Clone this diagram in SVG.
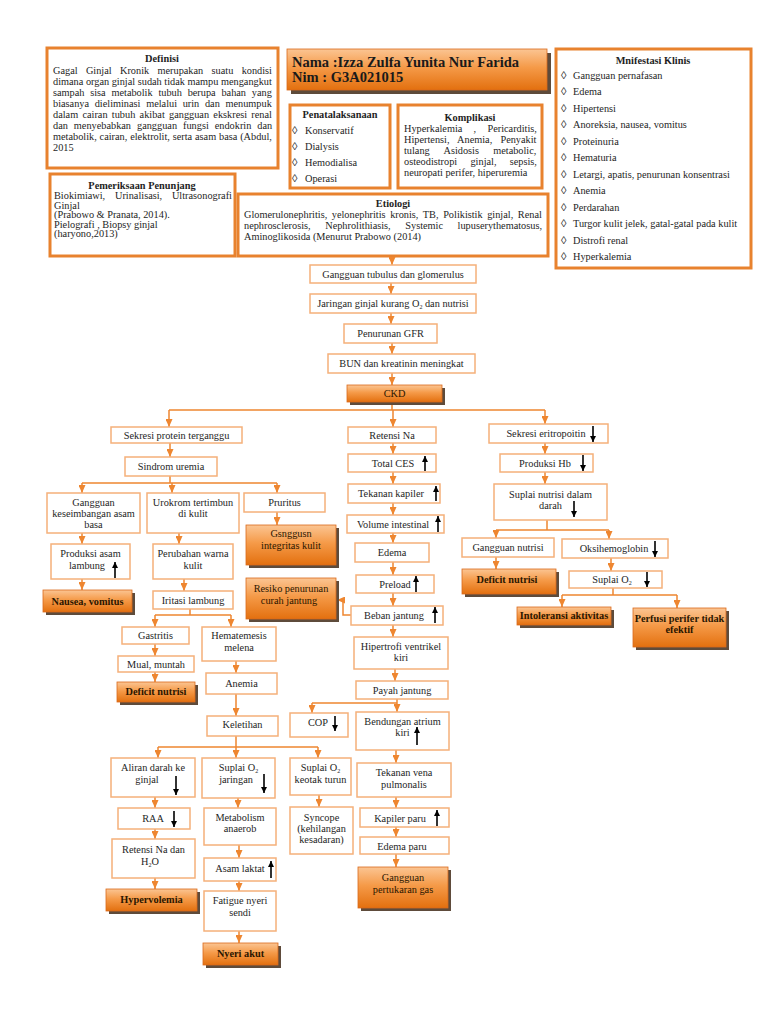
<svg xmlns="http://www.w3.org/2000/svg" width="768" height="1024" viewBox="0 0 768 1024">
<defs>
<linearGradient id="og" x1="0" y1="0" x2="0" y2="1">
<stop offset="0" stop-color="#FBC593"/>
<stop offset="0.45" stop-color="#F59A48"/>
<stop offset="1" stop-color="#E3700F"/>
</linearGradient>
<marker id="ah" viewBox="0 0 8 7" refX="8" refY="3.5" markerWidth="8" markerHeight="7" markerUnits="userSpaceOnUse" orient="auto"><path d="M0,0L8,3.5L0,7z" fill="#EE8630"/></marker>
<marker id="bh" viewBox="0 0 6 6" refX="6" refY="3" markerWidth="6" markerHeight="6" markerUnits="userSpaceOnUse" orient="auto"><path d="M0,0L6,3L0,6z" fill="#000"/></marker>
</defs>
<style>
.ib{fill:#fff;stroke:#E8822E;stroke-width:3}
.b{fill:#fff;stroke:#F5B07A;stroke-width:1.5}
.o{fill:url(#og);stroke:#D96A1C;stroke-width:0.8}
.sh{fill:#5E4B3B}
text{font-family:"Liberation Serif","Times New Roman",serif;fill:#1e1e1e}
.t{font-size:10.3px;text-anchor:middle}
.tb{font-size:10.3px;text-anchor:middle;font-weight:bold;fill:#2a1600}
.tn{font-size:10.3px;text-anchor:middle;fill:#2a1600}
.h{font-size:10.3px;font-weight:bold;text-anchor:middle}
.p{font-size:10.3px}
.d{font-size:11px}
.nm{font-size:14.5px;font-weight:bold;fill:#1a1a1a}
.c{fill:none;stroke:#EE8630;stroke-width:1.5}
.a{marker-end:url(#ah)}
.k{fill:none;stroke:#000;stroke-width:1.6;marker-end:url(#bh)}
.s{font-size:6px}
</style>
<rect x="0" y="0" width="768" height="1024" fill="#fff"/>

<g id="definisi">
<rect class="ib" x="47" y="48" width="231" height="120"/>
<text class="h" x="162" y="62">Definisi</text>
<text class="p" x="53" y="74" word-spacing="5.76">Gagal Ginjal Kronik merupakan suatu kondisi</text>
<text class="p" x="53" y="85">dimana organ ginjal sudah tidak mampu mengangkut</text>
<text class="p" x="53" y="96" word-spacing="3.2">sampah sisa metabolik tubuh berupa bahan yang</text>
<text class="p" x="53" y="107" word-spacing="3.1">biasanya dieliminasi melalui urin dan menumpuk</text>
<text class="p" x="53" y="118" word-spacing="1.7">dalam cairan tubuh akibat gangguan ekskresi renal</text>
<text class="p" x="53" y="129" word-spacing="3.4">dan menyebabkan gangguan fungsi endokrin dan</text>
<text class="p" x="53" y="140" word-spacing="0.27">metabolik, cairan, elektrolit, serta asam basa (Abdul,</text>
<text class="p" x="53" y="151">2015</text>
</g>

<g id="nama">
<rect class="sh" x="291" y="53" width="260" height="41"/>
<rect class="o" x="287" y="49" width="260" height="41"/>
<text class="nm" x="292" y="67">Nama :Izza Zulfa Yunita Nur Farida</text>
<text class="nm" x="292" y="82">Nim : G3A021015</text>
</g>

<g id="penatalaksanaan">
<rect class="ib" x="290" y="105" width="100" height="83"/>
<text class="h" x="340" y="118">Penatalaksanaan</text>
<text class="d" x="292" y="134">◊</text><text class="p" x="305" y="134">Konservatif</text>
<text class="d" x="292" y="150">◊</text><text class="p" x="305" y="150">Dialysis</text>
<text class="d" x="292" y="166">◊</text><text class="p" x="305" y="166">Hemodialisa</text>
<text class="d" x="292" y="182">◊</text><text class="p" x="305" y="182">Operasi</text>
</g>

<g id="komplikasi">
<rect class="ib" x="398" y="105" width="144" height="83"/>
<text class="h" x="470" y="121">Komplikasi</text>
<text class="p" x="404" y="132" word-spacing="8.7">Hyperkalemia , Pericarditis,</text>
<text class="p" x="404" y="143" word-spacing="5.6">Hipertensi, Anemia, Penyakit</text>
<text class="p" x="404" y="154" word-spacing="11.7">tulang Asidosis metabolic,</text>
<text class="p" x="404" y="165" word-spacing="10.7">osteodistropi ginjal, sepsis,</text>
<text class="p" x="404" y="176">neuropati perifer, hiperuremia</text>
</g>

<g id="manifestasi">
<rect class="ib" x="556" y="49" width="195" height="219"/>
<text class="h" x="653" y="64">Mnifestasi Klinis</text>
<text class="d" x="561" y="78.5">◊</text><text class="p" x="573" y="78.5">Gangguan pernafasan</text>
<text class="d" x="561" y="95">◊</text><text class="p" x="573" y="95">Edema</text>
<text class="d" x="561" y="111.5">◊</text><text class="p" x="573" y="111.5">Hipertensi</text>
<text class="d" x="561" y="128">◊</text><text class="p" x="573" y="128">Anoreksia, nausea, vomitus</text>
<text class="d" x="561" y="144.5">◊</text><text class="p" x="573" y="144.5">Proteinuria</text>
<text class="d" x="561" y="161">◊</text><text class="p" x="573" y="161">Hematuria</text>
<text class="d" x="561" y="177.5">◊</text><text class="p" x="573" y="177.5">Letargi, apatis, penurunan konsentrasi</text>
<text class="d" x="561" y="194">◊</text><text class="p" x="573" y="194">Anemia</text>
<text class="d" x="561" y="210.5">◊</text><text class="p" x="573" y="210.5">Perdarahan</text>
<text class="d" x="561" y="227">◊</text><text class="p" x="573" y="227">Turgor kulit jelek, gatal-gatal pada kulit</text>
<text class="d" x="561" y="243.5">◊</text><text class="p" x="573" y="243.5">Distrofi renal</text>
<text class="d" x="561" y="260">◊</text><text class="p" x="573" y="260">Hyperkalemia</text>
</g>

<g id="pemeriksaan">
<rect class="ib" x="50" y="174" width="185" height="82"/>
<text class="h" x="142" y="189">Pemeriksaan Penunjang</text>
<text class="p" x="54" y="199" word-spacing="7.2">Biokimiawi, Urinalisasi, Ultrasonografi</text>
<text class="p" x="54" y="208.5">Ginjal</text>
<text class="p" x="54" y="218">(Prabowo &amp; Pranata,  2014).</text>
<text class="p" x="54" y="227.5">Pielografi , Biopsy ginjal</text>
<text class="p" x="54" y="237">(haryono,2013)</text>
</g>

<g id="etiologi">
<rect class="ib" x="238" y="194" width="310" height="62"/>
<text class="h" x="393" y="207">Etiologi</text>
<text class="p" x="244" y="218" word-spacing="2">Glomerulonephritis, yelonephritis kronis, TB, Polikistik ginjal, Renal</text>
<text class="p" x="244" y="229" word-spacing="12">nephrosclerosis, Nephrolithiasis, Systemic lupuserythematosus,</text>
<text class="p" x="244" y="240">Aminoglikosida (Menurut Prabowo (2014)</text>
</g>

<g id="connectors">
<path class="c a" d="M392,257V265"/>
<path class="c a" d="M391,283V294"/>
<path class="c a" d="M391,313V324"/>
<path class="c a" d="M392,343V354"/>
<path class="c a" d="M392,373V385"/>
<path class="c" d="M392,402V410M169,410H545"/>
<path class="c a" d="M169,410V427"/>
<path class="c a" d="M393,410V427"/>
<path class="c a" d="M545,410V424"/>
<path class="c a" d="M170,443V457"/>
<path class="c a" d="M393,443V454"/>
<path class="c a" d="M545,443V454"/>
<path class="c" d="M170,476V483M82,483H277"/>
<path class="c a" d="M82,483V493"/>
<path class="c a" d="M172,483V493"/>
<path class="c a" d="M277,483V493"/>
<path class="c a" d="M393,472V484"/>
<path class="c a" d="M545,472V484"/>
<path class="c a" d="M393,503V515"/>
<path class="c" d="M547,520V530M496,530H609"/>
<path class="c a" d="M496,530V538"/>
<path class="c a" d="M609,530V539"/>
<path class="c a" d="M82,533V544"/>
<path class="c a" d="M179,533V544"/>
<path class="c a" d="M277,512V525"/>
<path class="c a" d="M393,533V543"/>
<path class="c a" d="M393,562V575"/>
<path class="c a" d="M393,593V606"/>
<path class="c a" d="M351,615H343V600H337"/>
<path class="c a" d="M393,625V637"/>
<path class="c a" d="M395,669V681"/>
<path class="c" d="M397,699V703M312,703H397"/>
<path class="c a" d="M312,703V713"/>
<path class="c a" d="M397,703V712"/>
<path class="c a" d="M82,579V590"/>
<path class="c a" d="M184,579V591"/>
<path class="c a" d="M496,557V569"/>
<path class="c a" d="M611,558V571"/>
<path class="c" d="M613,588V595M562,595H677"/>
<path class="c a" d="M562,595V607"/>
<path class="c a" d="M677,595V608"/>
<path class="c" d="M190,609V615M155,615H231"/>
<path class="c a" d="M155,615V627"/>
<path class="c a" d="M231,615V627"/>
<path class="c a" d="M155,644V656"/>
<path class="c a" d="M155,672V682"/>
<path class="c a" d="M236,661V673"/>
<path class="c a" d="M236,694V716"/>
<path class="c" d="M236,736V747M158,747H318"/>
<path class="c a" d="M158,747V758"/>
<path class="c a" d="M236,747V758"/>
<path class="c a" d="M318,747V758"/>
<path class="c a" d="M155,797V808"/>
<path class="c a" d="M155,829V839"/>
<path class="c a" d="M155,878V889"/>
<path class="c a" d="M238,798V808"/>
<path class="c a" d="M239,845V858"/>
<path class="c a" d="M239,881V891"/>
<path class="c a" d="M239,931V943"/>
<path class="c a" d="M319,795V807"/>
<path class="c a" d="M396,750V763"/>
<path class="c a" d="M396,797V808"/>
<path class="c a" d="M396,827V837"/>
<path class="c a" d="M396,854V867"/>
</g>

<g id="tubulus"><rect class="b" x="310" y="265" width="166" height="18"/><text class="t" x="393" y="277.5">Gangguan tubulus dan glomerulus</text></g>
<g id="jaringan"><rect class="b" x="310" y="294" width="166" height="19"/><text class="t" x="393" y="307">Jaringan ginjal kurang O<tspan class="s" dy="2">2</tspan><tspan dy="-2"> dan nutrisi</tspan></text></g>
<g id="gfr"><rect class="b" x="344" y="324" width="93" height="19"/><text class="t" x="390.5" y="337">Penurunan GFR</text></g>
<g id="bun"><rect class="b" x="328" y="354" width="147" height="19"/><text class="t" x="401.5" y="367">BUN dan kreatinin meningkat</text></g>
<g id="ckd"><rect class="sh" x="350" y="388" width="95" height="17"/><rect class="o" x="347" y="385" width="95" height="17"/><text class="tn" x="394.5" y="397">CKD</text></g>

<g id="sekresi-protein"><rect class="b" x="111" y="427" width="131" height="16"/><text class="t" x="176.5" y="438.5">Sekresi protein terganggu</text></g>
<g id="retensi-na"><rect class="b" x="348" y="427" width="88" height="16"/><text class="t" x="392" y="438.5">Retensi Na</text></g>
<g id="sekresi-eritropoitin"><rect class="b" x="489" y="424" width="119" height="19"/><text class="t" x="546" y="437">Sekresi eritropoitin</text><path class="k" d="M593,426V442"/></g>
<g id="sindrom"><rect class="b" x="125" y="457" width="92" height="19"/><text class="t" x="171" y="470">Sindrom uremia</text></g>
<g id="total-ces"><rect class="b" x="348" y="454" width="88" height="18"/><text class="t" x="393" y="466.5">Total CES</text><path class="k" d="M425,471V456"/></g>
<g id="produksi-hb"><rect class="b" x="500" y="454" width="93" height="18"/><text class="t" x="545" y="466.5">Produksi Hb</text><path class="k" d="M583,455V471"/></g>
<g id="keseimbangan"><rect class="b" x="47" y="493" width="93" height="40"/><text class="t" x="93.5" y="505.5">Gangguan</text><text class="t" x="93.5" y="516.5">keseimbangan asam</text><text class="t" x="93.5" y="527.5">basa</text></g>
<g id="urokrom"><rect class="b" x="147" y="493" width="92" height="40"/><text class="t" x="193" y="505.5">Urokrom tertimbun</text><text class="t" x="193" y="516.5">di kulit</text></g>
<g id="pruritus"><rect class="b" x="244" y="493" width="81" height="19"/><text class="t" x="284.5" y="506">Pruritus</text></g>
<g id="tekanan-kapiler"><rect class="b" x="348" y="484" width="92" height="19"/><text class="t" x="391" y="497">Tekanan kapiler</text><path class="k" d="M436,501V486"/></g>
<g id="suplai-nutrisi"><rect class="b" x="494" y="484" width="113" height="36"/><text class="t" x="550.5" y="497.5">Suplai nutrisi dalam</text><text class="t" x="550.5" y="508.5">darah</text><path class="k" d="M574,501V517"/></g>
<g id="integritas-kulit"><rect class="sh" x="249" y="528" width="90" height="40"/><rect class="o" x="246" y="525" width="90" height="40"/><text class="tn" x="291" y="536.5">Gsnggusn</text><text class="tn" x="291" y="548.5">integritas kulit</text></g>
<g id="volume-intestinal"><rect class="b" x="347" y="515" width="97" height="18"/><text class="t" x="393" y="527.5">Volume intestinal</text><path class="k" d="M438,532V516"/></g>
<g id="produksi-asam"><rect class="b" x="51" y="544" width="79" height="35"/><text class="t" x="90.5" y="556.5">Produksi asam</text><text class="t" x="87" y="568.5">lambung</text><path class="k" d="M115,578V562"/></g>
<g id="perubahan-warna"><rect class="b" x="153" y="544" width="80" height="35"/><text class="t" x="193" y="556.5">Perubahan warna</text><text class="t" x="193" y="568.5">kulit</text></g>
<g id="edema"><rect class="b" x="355" y="543" width="74" height="19"/><text class="t" x="392" y="556">Edema</text></g>
<g id="gangguan-nutrisi"><rect class="b" x="462" y="538" width="92" height="19"/><text class="t" x="508" y="550.5">Gangguan nutrisi</text></g>
<g id="oksihemoglobin"><rect class="b" x="562" y="539" width="106" height="19"/><text class="t" x="614" y="551.5">Oksihemoglobin</text><path class="k" d="M655,541V557"/></g>
<g id="resiko"><rect class="sh" x="249" y="581" width="90" height="41"/><rect class="o" x="246" y="578" width="90" height="41"/><text class="tn" x="291" y="591.5">Resiko penurunan</text><text class="tn" x="289" y="603.5">curah jantung</text></g>
<g id="preload"><rect class="b" x="356" y="575" width="78" height="18"/><text class="t" x="395" y="587.5">Preload</text><path class="k" d="M416,592V576"/></g>
<g id="deficit-nutrisi-kanan"><rect class="sh" x="465" y="572" width="94" height="25"/><rect class="o" x="462" y="569" width="94" height="25"/><text class="tb" x="507" y="582.5">Deficit nutrisi</text></g>
<g id="suplai-o2"><rect class="b" x="569" y="571" width="93" height="17"/><text class="t" x="612" y="583">Suplai O<tspan class="s" dy="2">2</tspan></text><path class="k" d="M647,572V587"/></g>
<g id="nausea"><rect class="sh" x="46" y="593" width="89" height="22"/><rect class="o" x="43" y="590" width="89" height="22"/><text class="tb" x="87.5" y="604.5">Nausea, vomitus</text></g>
<g id="iritasi"><rect class="b" x="153" y="591" width="80" height="18"/><text class="t" x="193" y="603.5">Iritasi lambung</text></g>
<g id="beban-jantung"><rect class="b" x="351" y="606" width="92" height="19"/><text class="t" x="394" y="619">Beban jantung</text><path class="k" d="M435,623V607"/></g>
<g id="intoleransi"><rect class="sh" x="520" y="610" width="94" height="18"/><rect class="o" x="517" y="607" width="94" height="18"/><text class="tb" x="564" y="618.5">Intoleransi aktivitas</text></g>
<g id="perfusi"><rect class="sh" x="636" y="611" width="93" height="39"/><rect class="o" x="633" y="608" width="93" height="39"/><text class="tb" x="679.5" y="621.5">Perfusi perifer tidak</text><text class="tb" x="679.5" y="633">efektif</text></g>
<g id="gastritis"><rect class="b" x="122" y="627" width="67" height="17"/><text class="t" x="155.5" y="639">Gastritis</text></g>
<g id="hematemesis"><rect class="b" x="202" y="627" width="74" height="34"/><text class="t" x="239" y="638.5">Hematemesis</text><text class="t" x="239" y="650.5">melena</text></g>
<g id="hipertrofi"><rect class="b" x="354" y="637" width="94" height="32"/><text class="t" x="401" y="649.5">Hipertrofi ventrikel</text><text class="t" x="401" y="660.5">kiri</text></g>
<g id="mual"><rect class="b" x="118" y="656" width="76" height="16"/><text class="t" x="156" y="667.5">Mual, muntah</text></g>
<g id="anemia"><rect class="b" x="206" y="673" width="71" height="21"/><text class="t" x="241.5" y="686.5">Anemia</text></g>
<g id="payah-jantung"><rect class="b" x="356" y="681" width="92" height="18"/><text class="t" x="402" y="693.5">Payah jantung</text></g>
<g id="deficit-nutrisi-kiri"><rect class="sh" x="120" y="685" width="78" height="20"/><rect class="o" x="117" y="682" width="78" height="20"/><text class="tb" x="156" y="694.5">Deficit nutrisi</text></g>
<g id="keletihan"><rect class="b" x="207" y="716" width="71" height="20"/><text class="t" x="242.5" y="727.5">Keletihan</text></g>
<g id="cop"><rect class="b" x="290" y="713" width="58" height="24"/><text class="t" x="318" y="725.5">COP</text><path class="k" d="M335,716V731"/></g>
<g id="bendungan"><rect class="b" x="356" y="712" width="93" height="38"/><text class="t" x="402.5" y="724.5">Bendungan atrium</text><text class="t" x="402.5" y="735.5">kiri</text><path class="k" d="M417,745V727"/></g>
<g id="aliran-darah"><rect class="b" x="111" y="758" width="84" height="39"/><text class="t" x="153" y="770.5">Aliran darah ke</text><text class="t" x="147" y="782.5">ginjal</text><path class="k" d="M176,776V795"/></g>
<g id="suplai-jaringan"><rect class="b" x="202" y="758" width="73" height="40"/><text class="t" x="238.5" y="770.5">Suplai O<tspan class="s" dy="2">2</tspan></text><text class="t" x="236" y="782.5">jaringan</text><path class="k" d="M264,774V793"/></g>
<g id="suplai-keotak"><rect class="b" x="290" y="758" width="61" height="37"/><text class="t" x="320.5" y="771">Suplai O<tspan class="s" dy="2">2</tspan></text><text class="t" x="320.5" y="782.5">keotak turun</text></g>
<g id="tekanan-vena"><rect class="b" x="357" y="763" width="94" height="34"/><text class="t" x="404" y="775.5">Tekanan vena</text><text class="t" x="404" y="787.5">pulmonalis</text></g>
<g id="raa"><rect class="b" x="118" y="808" width="72" height="21"/><text class="t" x="153" y="821.5">RAA</text><path class="k" d="M174,811V827"/></g>
<g id="metabolism"><rect class="b" x="204" y="808" width="72" height="37"/><text class="t" x="240" y="820.5">Metabolism</text><text class="t" x="240" y="831.5">anaerob</text></g>
<g id="syncope"><rect class="b" x="290" y="807" width="63" height="47"/><text class="t" x="321.5" y="820.5">Syncope</text><text class="t" x="321.5" y="831.5">(kehilangan</text><text class="t" x="321.5" y="842.5">kesadaran)</text></g>
<g id="kapiler-paru"><rect class="b" x="360" y="808" width="89" height="19"/><text class="t" x="400" y="821.5">Kapiler paru</text><path class="k" d="M437,826V810"/></g>
<g id="retensi-h2o"><rect class="b" x="112" y="839" width="83" height="39"/><text class="t" x="153.5" y="852.5">Retensi Na dan</text><text class="t" x="150" y="864.5">H<tspan class="s" dy="2">2</tspan><tspan dy="-2">O</tspan></text></g>
<g id="edema-paru"><rect class="b" x="360" y="837" width="89" height="17"/><text class="t" x="402" y="849.5">Edema paru</text></g>
<g id="asam-laktat"><rect class="b" x="204" y="858" width="72" height="23"/><text class="t" x="240" y="871.5">Asam laktat</text><path class="k" d="M271,878V861"/></g>
<g id="pertukaran-gas"><rect class="sh" x="361" y="870" width="90" height="41"/><rect class="o" x="358" y="867" width="90" height="41"/><text class="tn" x="403" y="880.5">Gangguan</text><text class="tn" x="403" y="892.5">pertukaran gas</text></g>
<g id="hypervolemia"><rect class="sh" x="109" y="892" width="91" height="22"/><rect class="o" x="106" y="889" width="91" height="22"/><text class="tb" x="151.5" y="902.5">Hypervolemia</text></g>
<g id="fatigue"><rect class="b" x="204" y="891" width="72" height="40"/><text class="t" x="240" y="903.5">Fatigue nyeri</text><text class="t" x="240" y="915.5">sendi</text></g>
<g id="nyeri-akut"><rect class="sh" x="206" y="946" width="75" height="22"/><rect class="o" x="203" y="943" width="75" height="22"/><text class="tb" x="240.5" y="956.5">Nyeri akut</text></g>
</svg>
